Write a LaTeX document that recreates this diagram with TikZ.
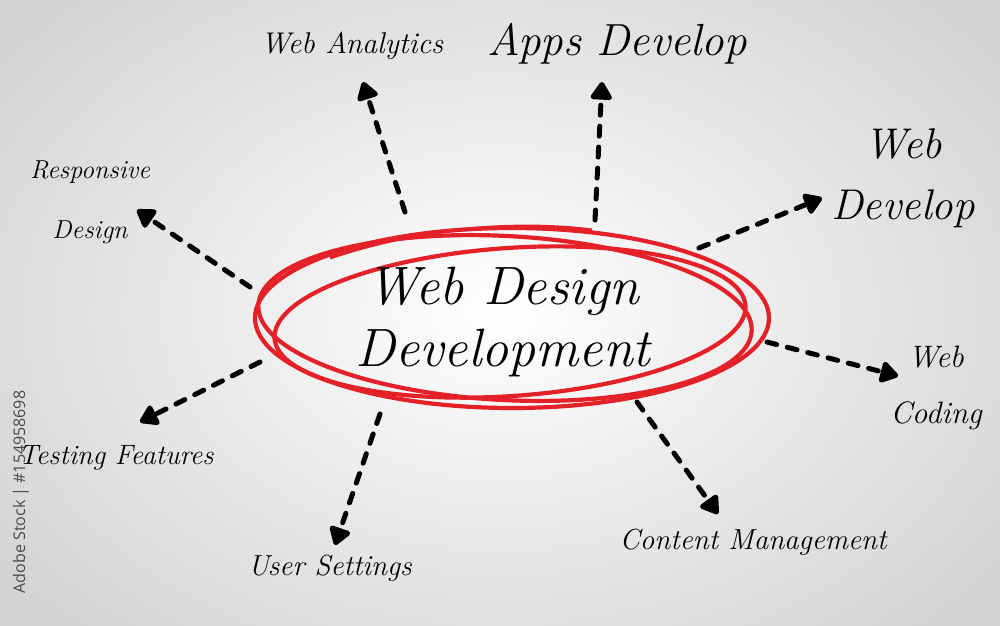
\documentclass[tikz,border=0pt]{standalone}
\usepackage{fontspec}
\setsansfont{Open Sans}
\usetikzlibrary{arrows.meta}
\definecolor{ringred}{HTML}{E42128}
\definecolor{wm}{HTML}{4A4A4A}
\tikzset{
  hand/.style={font=\itshape\fontsize{#1}{1.15\dimexpr#1pt\relax}\selectfont, text=black, align=center, inner sep=0pt},
  darrow/.style={line width=5pt, dash pattern=on 10pt off 11pt, line cap=round,
    -{Triangle[length=20pt,width=24pt,round]}},
  ring/.style={draw=ringred, line width=4.2pt}
}
\begin{document}
\begin{tikzpicture}[x=1pt,y=-1pt]
\useasboundingbox (0,0) rectangle (1000,625);
\shade[inner color=white, outer color=black!17] (-120,-120) rectangle (1120,745);
% watermark side text
\node[rotate=90, font=\sffamily\fontsize{16}{20}\selectfont, text=wm, inner sep=0pt] (wmk) at (21,492) {Adobe Stock | \#154958698};
% central ellipse scribble
\draw[ring] (512,318) ellipse [x radius=257, y radius=90];
\draw[ring, rotate around={4:(510,322)}] (510,322) ellipse [x radius=236, y radius=74];
\draw[ring, rotate around={-3:(505,318)}] (505,318) ellipse [x radius=247, y radius=82];
\draw[ring, line width=3pt] (330,258) .. controls (430,224) and (530,222) .. (592,230);
\node[hand=54] (c) at (503,322) {Web Design\\[0pt]Development};
% labels
\node[hand=30] (wa) at (352,46) {Web Analytics};
\node[hand=45] (ad) at (617,44) {Apps Develop};
\node[hand=43] (wd) at (903,178) {Web\\[12pt]Develop};
\node[hand=31] (wc) at (936,388) {Web\\[20pt]Coding};
\node[hand=29] (cm) at (753,542) {Content Management};
\node[hand=29] (us) at (330,568) {User Settings};
\node[hand=28] (tf) at (116,458) {Testing Features};
\node[hand=26] (rd) at (90,202) {Responsive\\[30pt]Design};
% arrow endpoints
\coordinate (t1) at (405,212); \coordinate (h1) at (363,82);
\coordinate (t2) at (595,220); \coordinate (h2) at (602,82);
\coordinate (t3) at (699,248); \coordinate (h3) at (822,198);
\coordinate (t4) at (767,342); \coordinate (h4) at (898,376);
\coordinate (t5) at (637,402); \coordinate (h5) at (718,514);
\coordinate (t6) at (380,414); \coordinate (h6) at (335,545);
\coordinate (t7) at (260,362); \coordinate (h7) at (140,422);
\coordinate (t8) at (250,287); \coordinate (h8) at (137,210);
\foreach \i in {1,...,8}{\draw[darrow] (t\i) -- (h\i);}
\end{tikzpicture}
\end{document}
